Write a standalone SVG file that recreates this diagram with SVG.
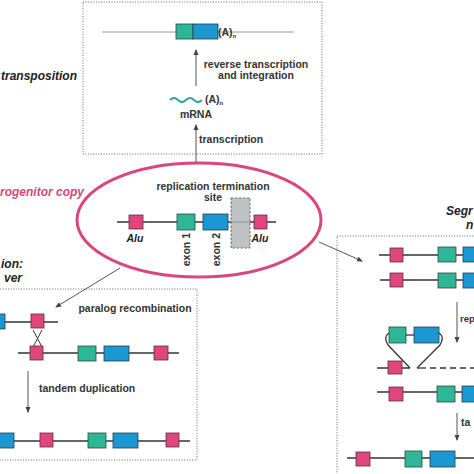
<svg xmlns="http://www.w3.org/2000/svg" width="474" height="474" viewBox="0 0 474 474">
<style>
.t{font-family:"Liberation Sans",Arial,sans-serif;font-weight:bold;font-size:10.5px;fill:#333}
.it{font-family:"Liberation Sans",Arial,sans-serif;font-weight:bold;font-style:italic;font-size:12px;fill:#222}
.pk{fill:#e0457b;stroke:#5a3340;stroke-width:0.8}
.tl{fill:#2db796;stroke:#2f4a40;stroke-width:0.8}
.bl{fill:#1b97d1;stroke:#263c4a;stroke-width:0.8}
.ln{stroke:#333;stroke-width:1.3;fill:none}
.box{fill:none;stroke:#666;stroke-width:1;stroke-dasharray:1 1.6}
.ar{stroke:#555;stroke-width:1;fill:none;marker-end:url(#ah)}
</style>
<defs>
<marker id="ah" markerWidth="6" markerHeight="6" refX="5" refY="3" orient="auto" markerUnits="userSpaceOnUse">
<path d="M0,0.5 L6,3 L0,5.5 Z" fill="#444"/>
</marker>
</defs>
<rect width="474" height="474" fill="#fff"/>

<g id="retrotransposition">
<rect class="box" x="83" y="2" width="239" height="152"/>
<line x1="102" y1="32" x2="294" y2="32" stroke="#9a9a9a" stroke-width="1.2"/>
<rect class="tl" x="176" y="24" width="17" height="15"/>
<rect class="bl" x="193" y="24" width="25" height="15"/>
<text class="t" x="218" y="36">(A)<tspan font-size="6" dy="2">n</tspan></text>
<text class="t" x="256" y="68" text-anchor="middle">reverse transcription</text>
<text class="t" x="256" y="79" text-anchor="middle">and integration</text>
<path d="M170,100 q4,-4 8,0 t8,0 t8,0 t8,0" fill="none" stroke="#2aa59a" stroke-width="1.8"/>
<text class="t" x="205" y="103">(A)<tspan font-size="6" dy="2">n</tspan></text>
<text class="t" x="196" y="118" text-anchor="middle">mRNA</text>
<text class="t" x="199" y="143">transcription</text>
<text class="it" x="1" y="80">transposition</text>
</g>

<g id="progenitor">
<ellipse cx="199" cy="220" rx="122" ry="57" fill="none" stroke="#d9487c" stroke-width="3"/>
<text class="it" x="0" y="196" style="fill:#d9487c">rogenitor copy</text>
<text class="t" x="213" y="190" text-anchor="middle">replication termination</text>
<text class="t" x="213" y="201" text-anchor="middle">site</text>
<line class="ln" x1="117" y1="222" x2="276" y2="222"/>
<rect class="pk" x="129" y="215" width="14" height="14"/>
<rect class="tl" x="177" y="214" width="18" height="16"/>
<rect class="bl" x="203" y="214" width="25" height="16"/>
<rect x="231" y="198" width="19" height="50" fill="#b4b7ba" fill-opacity="0.85" stroke="#666" stroke-width="0.9" stroke-dasharray="2.5 1.5"/>
<rect class="pk" x="254" y="215" width="13" height="14"/>
<text class="it" x="135" y="242" text-anchor="middle" style="font-size:10.5px">Alu</text>
<text class="it" x="260" y="242" text-anchor="middle" style="font-size:10.5px">Alu</text>
<text class="t" transform="translate(190,233) rotate(-90)" text-anchor="end">exon 1</text>
<text class="t" transform="translate(220,233) rotate(-90)" text-anchor="end">exon 2</text>
</g>

<g id="crossover">
<text class="it" x="1" y="268">ion:</text>
<text class="it" x="4" y="282">ver</text>
<rect class="box" x="-5" y="289" width="202" height="171"/>
<text class="t" x="135" y="312" text-anchor="middle">paralog recombination</text>
<line class="ln" x1="0" y1="322" x2="58" y2="322"/>
<rect class="bl" x="-5" y="314" width="10" height="15"/>
<rect class="pk" x="31" y="314" width="13" height="14"/>
<path d="M33,330 L42,347 M42,330 L33,347" stroke="#333" stroke-width="1" fill="none"/>
<line class="ln" x1="18" y1="353" x2="179" y2="353"/>
<rect class="pk" x="30" y="346" width="13" height="14"/>
<rect class="tl" x="78" y="346" width="18" height="15"/>
<rect class="bl" x="104" y="346" width="25" height="15"/>
<rect class="pk" x="154" y="346" width="14" height="14"/>
<text class="t" x="39" y="392">tandem duplication</text>
<line class="ln" x1="0" y1="441" x2="190" y2="441"/>
<rect class="bl" x="-5" y="433" width="19" height="15"/>
<rect class="pk" x="40" y="433" width="13" height="14"/>
<rect class="tl" x="88" y="433" width="18" height="15"/>
<rect class="bl" x="113" y="433" width="25" height="15"/>
<rect class="pk" x="166" y="433" width="13" height="14"/>
</g>

<g id="segmental">
<text class="it" x="446" y="215">Segr</text>
<text class="it" x="466" y="229">n</text>
<rect class="box" x="337" y="236" width="145" height="250"/>
<line class="ln" x1="379" y1="255" x2="474" y2="255"/>
<rect class="pk" x="390" y="248" width="13" height="14"/>
<rect class="tl" x="438" y="247" width="18" height="15"/>
<rect class="bl" x="463" y="247" width="20" height="15"/>
<line class="ln" x1="380" y1="280" x2="474" y2="280"/>
<rect class="pk" x="390" y="273" width="13" height="14"/>
<rect class="tl" x="438" y="273" width="18" height="15"/>
<rect class="bl" x="463" y="273" width="20" height="15"/>
<text class="t" x="460" y="322" style="font-size:9.5px">rep</text>
<line class="ln" x1="406" y1="335" x2="414" y2="335"/>
<rect class="tl" x="389" y="327" width="17" height="16"/>
<rect class="bl" x="414" y="327" width="25" height="16"/>
<path class="ln" d="M410,368 L388,345 Q383,337 389,333"/>
<path class="ln" d="M417,368 L440,345 Q445,337 439,333"/>
<line class="ln" x1="377" y1="368" x2="410" y2="368"/>
<line class="ln" x1="417" y1="368" x2="426" y2="368"/>
<line class="ln" x1="430" y1="368" x2="474" y2="368" stroke-dasharray="6 4"/>
<rect class="pk" x="388" y="361" width="14" height="13"/>
<line class="ln" x1="377" y1="392" x2="474" y2="392"/>
<rect class="pk" x="389" y="387" width="14" height="14"/>
<rect class="tl" x="437" y="386" width="18" height="16"/>
<rect class="bl" x="462" y="386" width="20" height="16"/>
<text class="t" x="461" y="426">ta</text>
<line class="ln" x1="347" y1="458" x2="474" y2="458"/>
<rect class="pk" x="356" y="452" width="14" height="14"/>
<rect class="tl" x="405" y="451" width="17" height="16"/>
<rect class="bl" x="430" y="451" width="25" height="16"/>
</g>

<g id="connectors">
<line class="ar" x1="196" y1="86" x2="196" y2="50"/>
<line class="ar" x1="196" y1="162" x2="196" y2="125"/>
<line class="ar" x1="120" y1="268" x2="56" y2="307"/>
<line class="ar" x1="319" y1="242" x2="362" y2="261"/>
<line class="ar" x1="28" y1="371" x2="28" y2="412"/>
<line class="ar" x1="457" y1="302" x2="457" y2="342"/>
<line class="ar" x1="457" y1="413" x2="457" y2="440"/>
</g>
</svg>
